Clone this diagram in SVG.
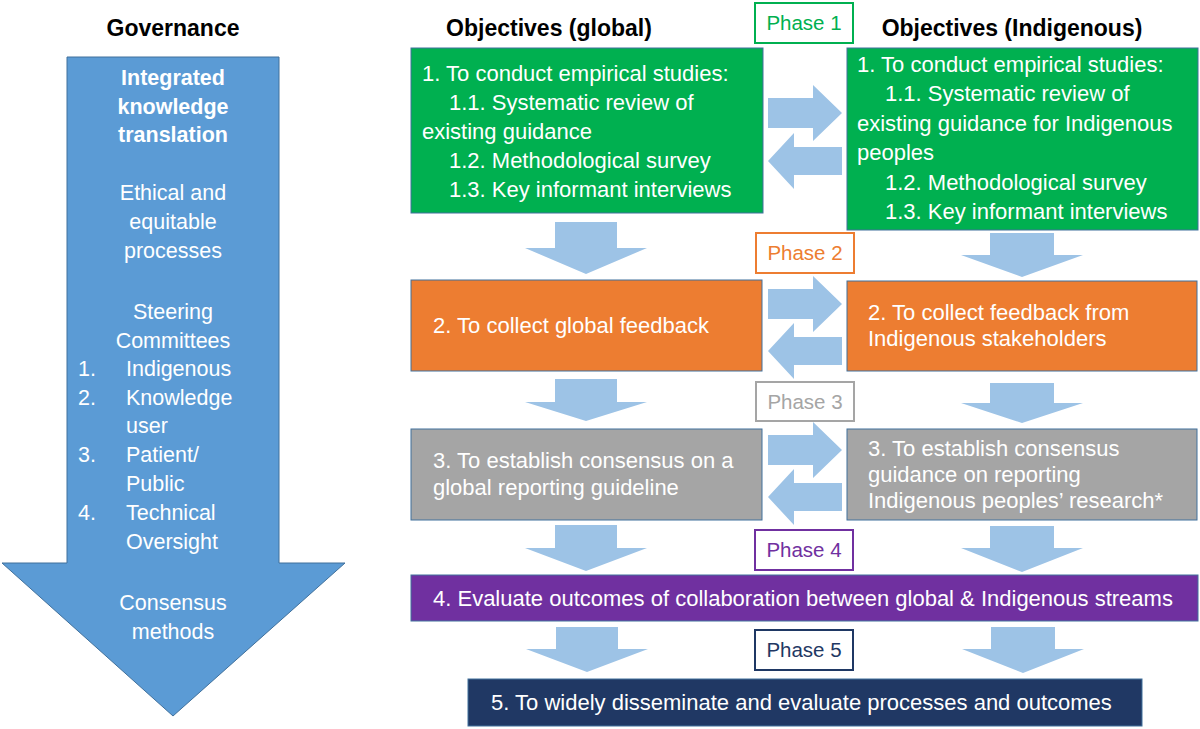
<svg xmlns="http://www.w3.org/2000/svg" width="1200" height="729" viewBox="0 0 1200 729">
<style>
text{font-family:"Liberation Sans",Arial,sans-serif}
.hdr{font-size:23px;font-weight:bold;fill:#000}
.gov{font-size:21.5px;fill:#fff}
.b{font-weight:bold}
.bx{font-size:22px;fill:#fff}
.ph{font-size:20.5px;text-anchor:middle}
.box{stroke:#41719C;stroke-width:1}
.conn{fill:#9DC3E6}
</style>
<defs>
<path id="ra" d="M0,-15 H45 V-28 L74,0 L45,28 V15 H0 Z"/>
<path id="la" d="M74,-14 H26 V-28 L0,0 L26,28 V14 H74 Z"/>
</defs>
<rect width="1200" height="729" fill="#fff"/>

<text class="hdr" x="173" y="36" text-anchor="middle">Governance</text>
<text class="hdr" x="549" y="36" text-anchor="middle">Objectives (global)</text>
<text class="hdr" x="1012" y="36" text-anchor="middle">Objectives (Indigenous)</text>

<g id="governance">
<polygon points="67,57 279,57 279,563 345,563 173,716 2,563 67,563" fill="#5B9BD5" stroke="#41719C" stroke-width="1"/>
<g class="gov" text-anchor="middle">
<text class="b" x="173" y="85">Integrated</text>
<text class="b" x="173" y="114">knowledge</text>
<text class="b" x="173" y="142">translation</text>
<text x="173" y="200">Ethical and</text>
<text x="173" y="229">equitable</text>
<text x="173" y="258">processes</text>
<text x="173" y="319">Steering</text>
<text x="173" y="348">Committees</text>
<text x="173" y="610">Consensus</text>
<text x="173" y="639">methods</text>
</g>
<g class="gov">
<text x="78" y="376">1.</text><text x="126" y="376">Indigenous</text>
<text x="78" y="405">2.</text><text x="126" y="405">Knowledge</text>
<text x="126" y="433">user</text>
<text x="78" y="462">3.</text><text x="126" y="462">Patient/</text>
<text x="126" y="491">Public</text>
<text x="78" y="520">4.</text><text x="126" y="520">Technical</text>
<text x="126" y="549">Oversight</text>
</g>
</g>

<g id="connectors" class="conn">
<use href="#ra" x="768" y="113"/>
<use href="#la" x="768" y="161"/>
<use href="#ra" x="768" y="304"/>
<use href="#la" x="768" y="351"/>
<use href="#ra" x="768" y="450"/>
<use href="#la" x="768" y="497"/>
<polygon points="555,222 617,222 617,248 647,248 586,274 525,248 555,248"/>
<polygon points="990,233 1054,233 1054,255 1083,255 1022,277 961,255 990,255"/>
<polygon points="555,379 617,379 617,402 647,402 586,421 525,402 555,402"/>
<polygon points="990,383 1054,383 1054,403 1083,403 1022,423 961,403 990,403"/>
<polygon points="555,525 617,525 617,548 647,548 586,571 525,548 555,548"/>
<polygon points="990,526 1054,526 1054,548 1083,548 1022,572 961,548 990,548"/>
<polygon points="556,627 618,627 618,649 648,649 587,672 526,649 556,649"/>
<polygon points="991,627 1055,627 1055,649 1084,649 1023,673 962,649 991,649"/>
</g>

<g id="phase1">
<rect x="755" y="3" width="98" height="40" fill="#fff" stroke="#00B050" stroke-width="2"/>
<text class="ph" x="804" y="30" fill="#00B050">Phase 1</text>
</g>
<g id="obj1-global">
<rect class="box" x="411" y="48" width="352" height="165" fill="#00B050"/>
<g class="bx">
<text x="422" y="81">1. To conduct empirical studies:</text>
<text x="449" y="110">1.1. Systematic review of</text>
<text x="422" y="139">existing guidance</text>
<text x="449" y="168">1.2. Methodological survey</text>
<text x="449" y="197">1.3. Key informant interviews</text>
</g>
</g>
<g id="obj1-indigenous">
<rect class="box" x="847" y="48" width="351" height="182" fill="#00B050"/>
<g class="bx">
<text x="857" y="72">1. To conduct empirical studies:</text>
<text x="885" y="101">1.1. Systematic review of</text>
<text x="857" y="131">existing guidance for Indigenous</text>
<text x="857" y="160">peoples</text>
<text x="885" y="190">1.2. Methodological survey</text>
<text x="885" y="219">1.3. Key informant interviews</text>
</g>
</g>

<g id="phase2">
<rect x="756" y="233" width="98" height="40" fill="#fff" stroke="#ED7D31" stroke-width="2"/>
<text class="ph" x="805" y="260" fill="#ED7D31">Phase 2</text>
</g>
<g id="obj2-global">
<rect class="box" x="411" y="280" width="351" height="91" fill="#ED7D31"/>
<text class="bx" x="433" y="333">2. To collect global feedback</text>
</g>
<g id="obj2-indigenous">
<rect class="box" x="847" y="281" width="350" height="90" fill="#ED7D31"/>
<text class="bx" x="868" y="320">2. To collect feedback from</text>
<text class="bx" x="868" y="346">Indigenous stakeholders</text>
</g>

<g id="phase3">
<rect x="756" y="382" width="98" height="39" fill="#fff" stroke="#A5A5A5" stroke-width="2"/>
<text class="ph" x="805" y="409" fill="#A5A5A5">Phase 3</text>
</g>
<g id="obj3-global">
<rect class="box" x="411" y="429" width="351" height="91" fill="#A5A5A5"/>
<text class="bx" x="433" y="468">3. To establish consensus on a</text>
<text class="bx" x="433" y="495">global reporting guideline</text>
</g>
<g id="obj3-indigenous">
<rect class="box" x="847" y="429" width="350" height="91" fill="#A5A5A5"/>
<text class="bx" x="868" y="456">3. To establish consensus</text>
<text class="bx" x="868" y="482">guidance on reporting</text>
<text class="bx" x="868" y="508">Indigenous peoples’ research*</text>
</g>

<g id="phase4">
<rect x="755" y="530" width="98" height="40" fill="#fff" stroke="#7030A0" stroke-width="2"/>
<text class="ph" x="804" y="557" fill="#7030A0">Phase 4</text>
</g>
<g id="obj4">
<rect class="box" x="411" y="575" width="787" height="46" fill="#7030A0"/>
<text class="bx" x="433" y="606">4. Evaluate outcomes of collaboration between global &amp; Indigenous streams</text>
</g>

<g id="phase5">
<rect x="755" y="630" width="98" height="40" fill="#fff" stroke="#1F3864" stroke-width="2"/>
<text class="ph" x="804" y="657" fill="#1F3864">Phase 5</text>
</g>
<g id="obj5">
<rect class="box" x="468" y="679" width="674" height="47" fill="#203864"/>
<text class="bx" x="491" y="710">5. To widely disseminate and evaluate processes and outcomes</text>
</g>
</svg>
